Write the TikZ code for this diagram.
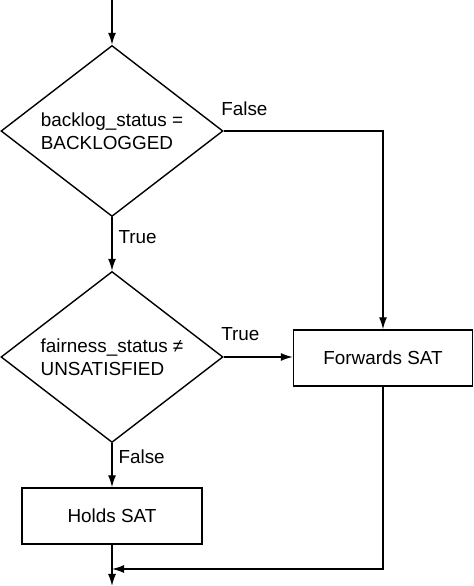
\documentclass[tikz,border=0pt]{standalone}
\usepackage{fontspec}
\setmainfont{Liberation Sans}
\usetikzlibrary{shapes.geometric, arrows.meta}

\begin{document}
\begin{tikzpicture}[font = \fontsize{10.75}{13}\selectfont, line width = 0.8pt, > = {Latex[length=2.4mm, width=1.6mm]}]
	\tikzset{decision/.style = {draw, diamond, aspect = 1.3, inner sep = 0pt, minimum width = 4.44cm, minimum height = 3.42cm, align = left},
		process/.style = {draw, rectangle, minimum width = 3.6cm, minimum height = 1.12cm}}
	\useasboundingbox (0,0) rectangle (9.48,11.72);
	\node (backlog) at (2.24,9.10) [decision] {backlog\_status =\\BACKLOGGED};
	\node (fairness) at (2.24,4.58) [decision] {fairness\_status ≠\\UNSATISFIED};
	\node (forwards) at (7.66,4.56) [process, minimum width = 3.58cm] {Forwards SAT};
	\node (holds) at (2.24,1.40) [process] {Holds SAT};
	\coordinate (entry) at (2.24,11.72);
	\coordinate (merge) at (2.24,0.34);
	\coordinate (exit) at (2.24,0);
	\draw [->] (entry) -- (backlog.north);
	\draw [->] (backlog.south) -- node [right, pos = 0.37] {True} (fairness.north);
	\draw [->] (backlog.east) node [above right, xshift = -1.8mm, yshift = 1.7mm] {False} -| (forwards.north);
	\draw [->] (fairness.east) node [above right, xshift = -1.8mm, yshift = 1.9mm] {True} -- (fairness.east -| forwards.west);
	\draw [->] (fairness.south) -- node [right, pos = 0.31] {False} (holds.north);
	\draw [->] (holds.south) -- (exit);
	\draw [->] (forwards.south) |- (merge);
\end{tikzpicture}
\end{document}
